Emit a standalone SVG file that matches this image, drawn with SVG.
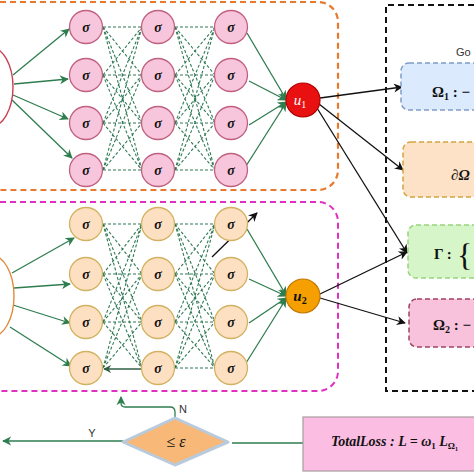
<svg xmlns="http://www.w3.org/2000/svg" width="474" height="474" viewBox="0 0 474 474">
<defs>
<marker id="ag" viewBox="0 0 10 10" refX="9" refY="5" markerWidth="7" markerHeight="7" orient="auto"><path d="M0,0L10,5L0,10L3,5z" fill="#2e7d4f"/></marker>
<marker id="ak" viewBox="0 0 10 10" refX="9" refY="5" markerWidth="7" markerHeight="7" orient="auto"><path d="M0,0L10,5L0,10L3,5z" fill="#111"/></marker>
<marker id="ad" viewBox="0 0 10 10" refX="9" refY="5" markerWidth="6" markerHeight="6" orient="auto"><path d="M0,0L10,5L0,10L3,5z" fill="#2f5f45"/></marker>
<style>
.sg{fill:#f8c6dc;stroke:#c0607e;stroke-width:1.3}
.so{fill:#fde0c2;stroke:#d2b260;stroke-width:1.3}
.sig{font-family:"Liberation Serif",serif;font-style:italic;font-weight:bold;font-size:14px;text-anchor:middle;fill:#111}
.dl{fill:none;stroke:#2f7a55;stroke-width:1.1;stroke-dasharray:3,2}
.ga{fill:none;stroke:#2e7d4f;stroke-width:1.3;marker-end:url(#ag)}
.ka{fill:none;stroke:#111;stroke-width:1.3;marker-end:url(#ak)}
.math{font-family:"Liberation Serif",serif;font-weight:bold;font-size:15px;fill:#111}
.lbl{font-family:"Liberation Sans",Arial,sans-serif;font-size:11px;fill:#333}
</style>
</defs>
<rect width="474" height="474" fill="#fff"/>
<rect x="-30" y="2" width="368" height="188" rx="20" fill="none" stroke="#e87a30" stroke-width="2.2" stroke-dasharray="6,4"/>
<rect x="-30" y="202" width="368" height="189" rx="20" fill="none" stroke="#e030c0" stroke-width="2" stroke-dasharray="6,4"/>
<path d="M474,5H386V391H474" fill="none" stroke="#111" stroke-width="2" stroke-dasharray="6,4"/>
<text class="lbl" x="456" y="56" fill="#666">Go</text>
<g id="connectors">
<path class="dl" d="M103,27L142,27M103,27L142,75M103,27L142,123M103,27L142,170M103,75L142,27M103,75L142,75M103,75L142,123M103,75L142,170M103,123L142,27M103,123L142,75M103,123L142,123M103,123L142,170M103,170L142,27M103,170L142,75M103,170L142,123M103,170L142,170"/>
<path class="dl" d="M175,27L215,27M175,27L215,75M175,27L215,123M175,27L215,170M175,75L215,27M175,75L215,75M175,75L215,123M175,75L215,170M175,123L215,27M175,123L215,75M175,123L215,123M175,123L215,170M175,170L215,27M175,170L215,75M175,170L215,123M175,170L215,170"/>
<path class="dl" d="M103,224L142,224M103,224L142,274M103,224L142,322M103,224L142,368M103,274L142,224M103,274L142,274M103,274L142,322M103,274L142,368M103,322L142,224M103,322L142,274M103,322L142,322M103,322L142,368M103,368L142,224M103,368L142,274M103,368L142,322"/>
<path class="dl" d="M175,224L215,224M175,224L215,274M175,224L215,322M175,224L215,368M175,274L215,224M175,274L215,274M175,274L215,322M175,274L215,368M175,322L215,224M175,322L215,274M175,322L215,322M175,322L215,368M175,368L215,224M175,368L215,274M175,368L215,322M175,368L215,368"/>
<path d="M142,369L104,369" fill="none" stroke="#2f5f45" stroke-width="1.3" marker-end="url(#ad)"/>
<line class="ga" x1="13" y1="75" x2="69" y2="29"/>
<line class="ga" x1="14" y1="84" x2="68" y2="79"/>
<line class="ga" x1="13" y1="95" x2="68" y2="119"/>
<line class="ga" x1="12" y1="100" x2="72" y2="158"/>
<line class="ga" x1="12" y1="273" x2="74" y2="238"/>
<line class="ga" x1="14" y1="288" x2="70" y2="284"/>
<line class="ga" x1="13" y1="305" x2="70" y2="323"/>
<line class="ga" x1="10" y1="327" x2="71" y2="366"/>
<line class="ga" x1="247" y1="33" x2="286" y2="99"/>
<line class="ga" x1="249" y1="81" x2="286" y2="100"/>
<line class="ga" x1="249" y1="125" x2="286" y2="102"/>
<line class="ga" x1="246" y1="166" x2="286" y2="103"/>
<line class="ga" x1="247" y1="229" x2="286" y2="295"/>
<line class="ga" x1="249" y1="279" x2="286" y2="296"/>
<line class="ga" x1="249" y1="323" x2="286" y2="298"/>
<line class="ga" x1="246" y1="363" x2="286" y2="299"/>
<line class="ka" x1="212" y1="257" x2="257" y2="213"/>
<line class="ka" x1="320" y1="98" x2="402" y2="87"/>
<line class="ka" x1="319" y1="104" x2="403" y2="170"/>
<line class="ka" x1="317" y1="108" x2="407" y2="253"/>
<line class="ka" x1="320" y1="294" x2="407" y2="252"/>
<line class="ka" x1="320" y1="298" x2="405" y2="323"/>
<path d="M123,441H3" fill="none" stroke="#2e7d4f" stroke-width="1.3" marker-end="url(#ag)"/>
<path d="M175,418V412Q175,407 170,407H125Q121,407 121,403V397" fill="none" stroke="#2e7d4f" stroke-width="1.3" marker-end="url(#ag)"/>
<line x1="232" y1="443" x2="303" y2="443" stroke="#2e7d4f" stroke-width="1.3"/>
</g>
<text class="lbl" x="92" y="437" text-anchor="middle">Y</text>
<text class="lbl" x="183" y="413" text-anchor="middle">N</text>
<g id="in1"><ellipse cx="-10" cy="87" rx="23" ry="40" fill="#fff" stroke="#c84055" stroke-width="1.4"/></g>
<g id="in2"><ellipse cx="-9" cy="296" rx="23" ry="41" fill="#fff" stroke="#e08a3a" stroke-width="1.4"/></g>
<g id="net1">
<g id="n1_11"><circle class="sg" cx="86" cy="27" r="16.5"/><text class="sig" x="86" y="32">σ</text></g>
<g id="n1_12"><circle class="sg" cx="86" cy="75" r="16.5"/><text class="sig" x="86" y="80">σ</text></g>
<g id="n1_13"><circle class="sg" cx="86" cy="123" r="16.5"/><text class="sig" x="86" y="128">σ</text></g>
<g id="n1_14"><circle class="sg" cx="86" cy="170" r="16.5"/><text class="sig" x="86" y="175">σ</text></g>
<g id="n1_21"><circle class="sg" cx="158" cy="27" r="16.5"/><text class="sig" x="158" y="32">σ</text></g>
<g id="n1_22"><circle class="sg" cx="158" cy="75" r="16.5"/><text class="sig" x="158" y="80">σ</text></g>
<g id="n1_23"><circle class="sg" cx="158" cy="123" r="16.5"/><text class="sig" x="158" y="128">σ</text></g>
<g id="n1_24"><circle class="sg" cx="158" cy="170" r="16.5"/><text class="sig" x="158" y="175">σ</text></g>
<g id="n1_31"><circle class="sg" cx="231" cy="27" r="16.5"/><text class="sig" x="231" y="32">σ</text></g>
<g id="n1_32"><circle class="sg" cx="231" cy="75" r="16.5"/><text class="sig" x="231" y="80">σ</text></g>
<g id="n1_33"><circle class="sg" cx="231" cy="123" r="16.5"/><text class="sig" x="231" y="128">σ</text></g>
<g id="n1_34"><circle class="sg" cx="231" cy="170" r="16.5"/><text class="sig" x="231" y="175">σ</text></g>
</g>
<g id="net2">
<g id="n2_11"><circle class="so" cx="86" cy="224" r="16.5"/><text class="sig" x="86" y="229">σ</text></g>
<g id="n2_12"><circle class="so" cx="86" cy="274" r="16.5"/><text class="sig" x="86" y="279">σ</text></g>
<g id="n2_13"><circle class="so" cx="86" cy="322" r="16.5"/><text class="sig" x="86" y="327">σ</text></g>
<g id="n2_14"><circle class="so" cx="86" cy="368" r="16.5"/><text class="sig" x="86" y="373">σ</text></g>
<g id="n2_21"><circle class="so" cx="158" cy="224" r="16.5"/><text class="sig" x="158" y="229">σ</text></g>
<g id="n2_22"><circle class="so" cx="158" cy="274" r="16.5"/><text class="sig" x="158" y="279">σ</text></g>
<g id="n2_23"><circle class="so" cx="158" cy="322" r="16.5"/><text class="sig" x="158" y="327">σ</text></g>
<g id="n2_24"><circle class="so" cx="158" cy="368" r="16.5"/><text class="sig" x="158" y="373">σ</text></g>
<g id="n2_31"><circle class="so" cx="231" cy="224" r="16.5"/><text class="sig" x="231" y="229">σ</text></g>
<g id="n2_32"><circle class="so" cx="231" cy="274" r="16.5"/><text class="sig" x="231" y="279">σ</text></g>
<g id="n2_33"><circle class="so" cx="231" cy="322" r="16.5"/><text class="sig" x="231" y="327">σ</text></g>
<g id="n2_34"><circle class="so" cx="231" cy="368" r="16.5"/><text class="sig" x="231" y="373">σ</text></g>
</g>
<g id="u1"><circle cx="303" cy="100" r="17" fill="#e81010" stroke="#b00000" stroke-width="1.2"/><text x="300" y="105" font-family="Liberation Serif,serif" font-style="italic" font-size="15" fill="#fff" text-anchor="middle">u<tspan font-style="normal" font-size="10" dy="3">1</tspan></text></g>
<g id="u2"><circle cx="303" cy="296" r="17" fill="#f5a000" stroke="#c07800" stroke-width="1.2"/><text x="300" y="301" font-family="Liberation Serif,serif" font-style="italic" font-weight="bold" font-size="15" fill="#111" text-anchor="middle">u<tspan font-style="normal" font-size="10" dy="3">2</tspan></text></g>
<g id="omega1"><rect x="401" y="63" width="90" height="47" rx="8" fill="#dbeafc" stroke="#7f9cc8" stroke-width="1.5" stroke-dasharray="5,3"/><text class="math" x="432" y="97">Ω<tspan font-size="10" dy="3">1</tspan><tspan dy="-3"> : −</tspan></text></g>
<g id="boundary"><rect x="403" y="142" width="90" height="55" rx="8" fill="#fde2c8" stroke="#d4a440" stroke-width="1.5" stroke-dasharray="5,3"/><text class="math" x="451" y="180" font-style="italic">∂Ω</text></g>
<g id="gamma"><rect x="408" y="225" width="90" height="53" rx="8" fill="#d6f5c9" stroke="#98d47a" stroke-width="1.5" stroke-dasharray="5,3"/><text class="math" x="434" y="259">Γ :</text><text x="457" y="266" font-family="Liberation Serif,serif" font-size="32" fill="#111">{</text></g>
<g id="omega2"><rect x="409" y="299" width="90" height="48" rx="8" fill="#f9c2dc" stroke="#a04464" stroke-width="1.5" stroke-dasharray="5,3"/><text class="math" x="433" y="330">Ω<tspan font-size="10" dy="3">2</tspan><tspan dy="-3"> : −</tspan></text></g>
<g id="check"><path d="M175,418L228,442L175,465L123,442Z" fill="#f8b878" stroke="#b8cadc" stroke-width="3" stroke-linejoin="round"/><text x="176" y="447" font-family="Liberation Serif,serif" font-size="16" fill="#111" text-anchor="middle">≤ <tspan font-style="italic">ε</tspan></text></g>
<g id="loss"><rect x="303" y="417" width="190" height="54" fill="#fbbde2" stroke="#a89ca0" stroke-width="1.2"/><text x="331" y="446" font-family="Liberation Serif,serif" font-style="italic" font-weight="bold" font-size="14" fill="#111">TotalLoss : L = ω<tspan font-size="9" dy="3" font-style="normal">1</tspan><tspan dy="-3"> L</tspan><tspan font-size="9" dy="3" font-style="normal">Ω</tspan><tspan font-size="6" dy="2" font-style="normal">1</tspan></text></g>
</svg>
